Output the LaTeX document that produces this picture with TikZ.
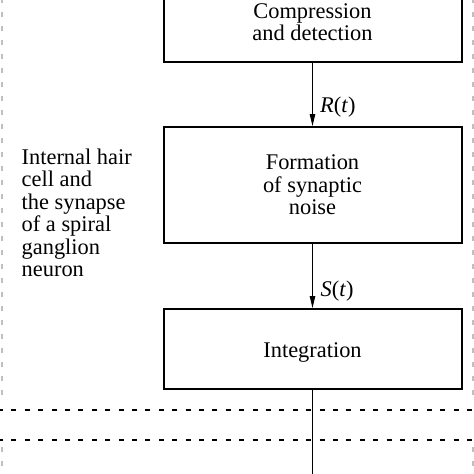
\documentclass[tikz,border=0pt]{standalone}
\usepackage{fontspec}
\setmainfont{Liberation Serif}
\usetikzlibrary{arrows.meta}
\begin{document}
\begin{tikzpicture}[x=1pt,y=-1pt,
  every node/.style={font=\fontsize{22.4}{22.5}\selectfont},
  procbox/.style={draw, line width=2pt, minimum width=298pt, inner sep=0pt, align=center},
  flow/.style={line width=1pt, -{Triangle[length=12pt,width=5.5pt]}},
  plainline/.style={line width=1pt},
  sepline/.style={line width=2pt, dash pattern=on 5pt off 8.4pt},
  greyline/.style={line width=2pt, draw=black!25, dash pattern=on 4.5pt off 9.5pt},
  sig/.style={anchor=base west, inner sep=0pt}]
\useasboundingbox (0,0) rectangle (474,474);
\node[procbox, minimum height=80pt] (b1) at (312.5,22) {Compression\\and detection};
\node[procbox, minimum height=116pt] (b2) at (312.5,185) {Formation\\of synaptic\\noise};
\node[procbox, minimum height=80pt, text depth=0pt, text height=17pt] (b3) at (312.5,349) {Integration};
\node[anchor=north west, inner sep=0pt, align=left] (side) at (21.5,148.5) {Internal hair\\cell and\\the synapse\\of a spiral\\ganglion\\neuron};
\draw[flow] (b1.south) -- (b2.north);
\draw[flow] (b2.south) -- (b3.north);
\coordinate (out) at (312.5,476);
\draw[plainline] (b3.south) -- (out);
\node[sig] (rt) at (320,112.5) {\textit{R}(\textit{t})};
\node[sig] (st) at (320.5,296.5) {\textit{S}(\textit{t})};
\coordinate (s1l) at (-2,409.5); \coordinate (s1r) at (476,409.5);
\coordinate (s2l) at (-2,439.5); \coordinate (s2r) at (476,439.5);
\draw[sepline] (s1l) -- (s1r);
\draw[sepline] (s2l) -- (s2r);
\coordinate (gla) at (2,-2); \coordinate (glb) at (2,400);
\coordinate (glc) at (2,447); \coordinate (gld) at (2,476);
\coordinate (gra) at (472.5,-2); \coordinate (grb) at (472.5,400);
\coordinate (grc) at (472.5,447); \coordinate (grd) at (472.5,476);
\draw[greyline] (gla) -- (glb);
\draw[greyline] (glc) -- (gld);
\draw[greyline] (gra) -- (grb);
\draw[greyline] (grc) -- (grd);
\end{tikzpicture}
\end{document}
